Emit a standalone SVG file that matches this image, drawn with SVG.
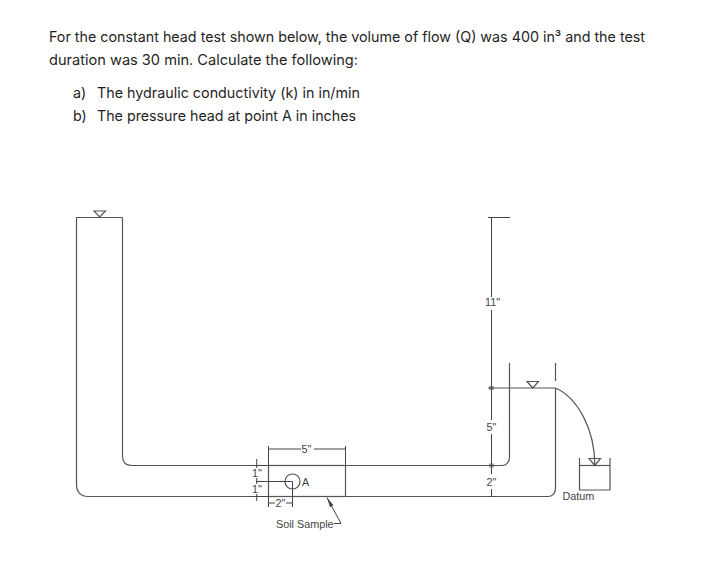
<svg xmlns="http://www.w3.org/2000/svg" width="726" height="580" viewBox="0 0 726 580">
<style>
.q{font-family:"Inter","Noto Sans","Liberation Sans",sans-serif;font-size:14.3px;fill:#1f1f1f}
.d{font-family:"Liberation Sans",Arial,sans-serif;font-size:10.8px;fill:#444}
.l{fill:none;stroke:#555;stroke-width:1.2}
.t{fill:none;stroke:#444;stroke-width:1}
.w{fill:#fff;stroke:#555;stroke-width:1.2}
</style>
<defs>
<marker id="arrow" markerWidth="11" markerHeight="5" refX="10" refY="2.500" orient="auto-start-reverse" markerUnits="userSpaceOnUse"><path d="M0,0.500L10,2.500L0,4.500Z" fill="#444"/></marker>
</defs>
<rect width="726" height="580" fill="#fff"/>
<g id="question">
<text class="q" x="49" y="42" textLength="596" lengthAdjust="spacingAndGlyphs">For the constant head test shown below, the volume of flow (Q) was 400 in³ and the test</text>
<text class="q" x="49" y="65" textLength="309" lengthAdjust="spacingAndGlyphs">duration was 30 min. Calculate the following:</text>
<text class="q" x="73" y="98">a)</text>
<text class="q" x="97" y="98" textLength="263" lengthAdjust="spacingAndGlyphs">The hydraulic conductivity (k) in in/min</text>
<text class="q" x="73" y="121">b)</text>
<text class="q" x="97" y="121" textLength="259" lengthAdjust="spacingAndGlyphs">The pressure head at point A in inches</text>
</g>
<g id="tube">
<path class="l" d="M122.500,217.500H76.500V485C76.500,492 81,496.500 88,496.500H548C552.500,496.500 555.500,493 555.500,488V388"/>
<path class="l" d="M122.500,217.500V456C122.500,462 126,465.500 132,465.500H502C506.500,465.500 509.500,462 509.500,457V363"/>
<path class="l" d="M555.500,363V381"/>
</g>
<g id="water-left"><path class="w" d="M94,211H105.500L99.700,217Z"/></g>
<g id="water-right"><path class="w" d="M527,381.500H538.500L532.700,388Z"/></g>
<g id="soil-sample">
<rect class="l" x="268.500" y="465.500" width="77" height="31"/>
<text class="d" x="276" y="527.500">Soil Sample</text>
</g>
<g id="point-a">
<circle class="l" cx="292.500" cy="481.500" r="7.500"/>
<text class="d" x="302" y="485.500">A</text>
</g>
<g id="datum-tank">
<path class="l" d="M579.500,458V490H610V458"/>
<path class="l" d="M579.500,465.500H610"/>
<path class="w" d="M589,458.500H600.500L594.800,465.500Z"/>
<text class="d" x="562.500" y="500">Datum</text>
</g>
<g id="connectors">
<path class="l" d="M488,388H555.500"/>
<path class="l" d="M555.500,388C578,398 594.800,430 594.800,465"/>
<path class="t" d="M488,217.500H510"/>
<path class="t" d="M491.500,217.500V297M491.500,310V420M491.500,434V474M491.500,489V497"/>
<path class="t" d="M490,386V390M493,386V390M490,463.500V467.500M493,463.500V467.500"/>
<path class="t" d="M268.500,446V465M345.500,446V465"/>
<path class="t" d="M268.500,449H301M314,449H345.500"/>
<path class="t" d="M256.700,459V468M256.700,478V484M256.700,494V501"/>
<path class="t" d="M254,465.500H268M254,496.500H268M256,481.500H292.500"/>
<path class="t" d="M268.500,496.500V507M292.500,481.500V507"/>
<path class="t" d="M268.500,503H275M286,503H292.500"/>
<path class="t" d="M334,523.500H341L327,497.500" marker-end="url(#arrow)"/>
</g>
<g id="dim-labels">
<text class="d" x="301.500" y="453">5"</text>
<text class="d" x="485" y="306">11"</text>
<text class="d" x="486.500" y="431">5"</text>
<text class="d" x="486.500" y="485.500">2"</text>
<text class="d" x="252" y="477">1"</text>
<text class="d" x="252" y="493">1"</text>
<text class="d" x="275.500" y="507">2"</text>
</g>
</svg>
